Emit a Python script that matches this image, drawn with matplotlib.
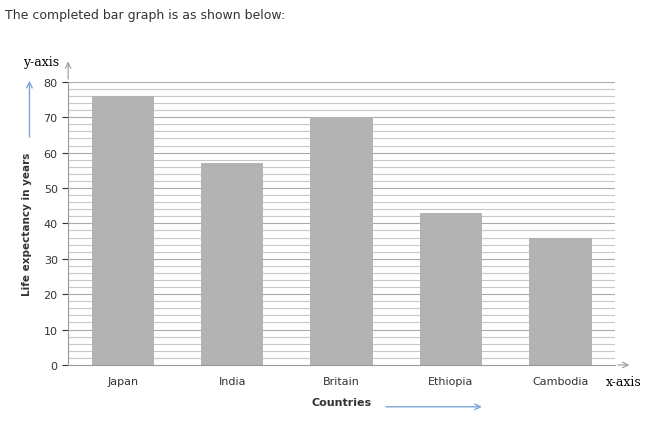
import matplotlib.pyplot as plt
import numpy as np

countries = ["Japan", "India", "Britain", "Ethiopia", "Cambodia"]
life_expectancy = [76, 57, 70, 43, 36]

fig = plt.figure(figsize=(6.55, 4.27), dpi=100)
ax = fig.add_axes([0.104, 0.143, 0.835, 0.663])

x = np.arange(len(countries))
ax.set_xlim(-0.5, len(countries) - 0.5)
ax.set_ylim(0, 80)
for y in np.arange(2, 81, 2):
    ax.axhline(y, color="#c8c8c8" if y % 10 else "#aaaaaa", lw=0.8, zorder=0)
ax.bar(x, life_expectancy, width=0.57, color="#b3b3b3", zorder=2)

ax.set_xticks(x)
ax.set_xticklabels(countries, fontsize=8, color="#333333")
ax.set_yticks(np.arange(0, 81, 10))
ax.tick_params(axis="y", labelsize=8, colors="#333333", length=4)
ax.tick_params(axis="x", length=0, pad=8)
for s in ["top", "right"]:
    ax.spines[s].set_visible(False)
for s in ["left", "bottom"]:
    ax.spines[s].set_color("#999999")

ax.set_xlabel("Countries", fontsize=8, fontweight="bold", color="#333333", labelpad=8)
ax.set_ylabel("Life expectancy in years", fontsize=7.5, fontweight="bold", color="#333333", labelpad=8)

fig.text(0.008, 0.955, "The completed bar graph is as shown below:", fontsize=9, color="#333333")
fig.text(0.035, 0.845, "y-axis", fontsize=9, family="serif")
fig.text(0.925, 0.095, "x-axis", fontsize=9, family="serif")

blue = "#7ea6d8"
fig.add_artist(plt.Annotation("", xy=(0.045, 0.815), xytext=(0.045, 0.67), xycoords="figure fraction",
                              arrowprops=dict(arrowstyle="->", color=blue, lw=1)))
fig.add_artist(plt.Annotation("", xy=(0.74, 0.045), xytext=(0.585, 0.045), xycoords="figure fraction",
                              arrowprops=dict(arrowstyle="->", color=blue, lw=1)))
grey = "#999999"
fig.add_artist(plt.Annotation("", xy=(0.104, 0.86), xytext=(0.104, 0.806), xycoords="figure fraction",
                              arrowprops=dict(arrowstyle="->", color=grey, lw=0.8)))
fig.add_artist(plt.Annotation("", xy=(0.965, 0.143), xytext=(0.939, 0.143), xycoords="figure fraction",
                              arrowprops=dict(arrowstyle="->", color=grey, lw=0.8)))

fig.savefig("out.png", dpi=100)
